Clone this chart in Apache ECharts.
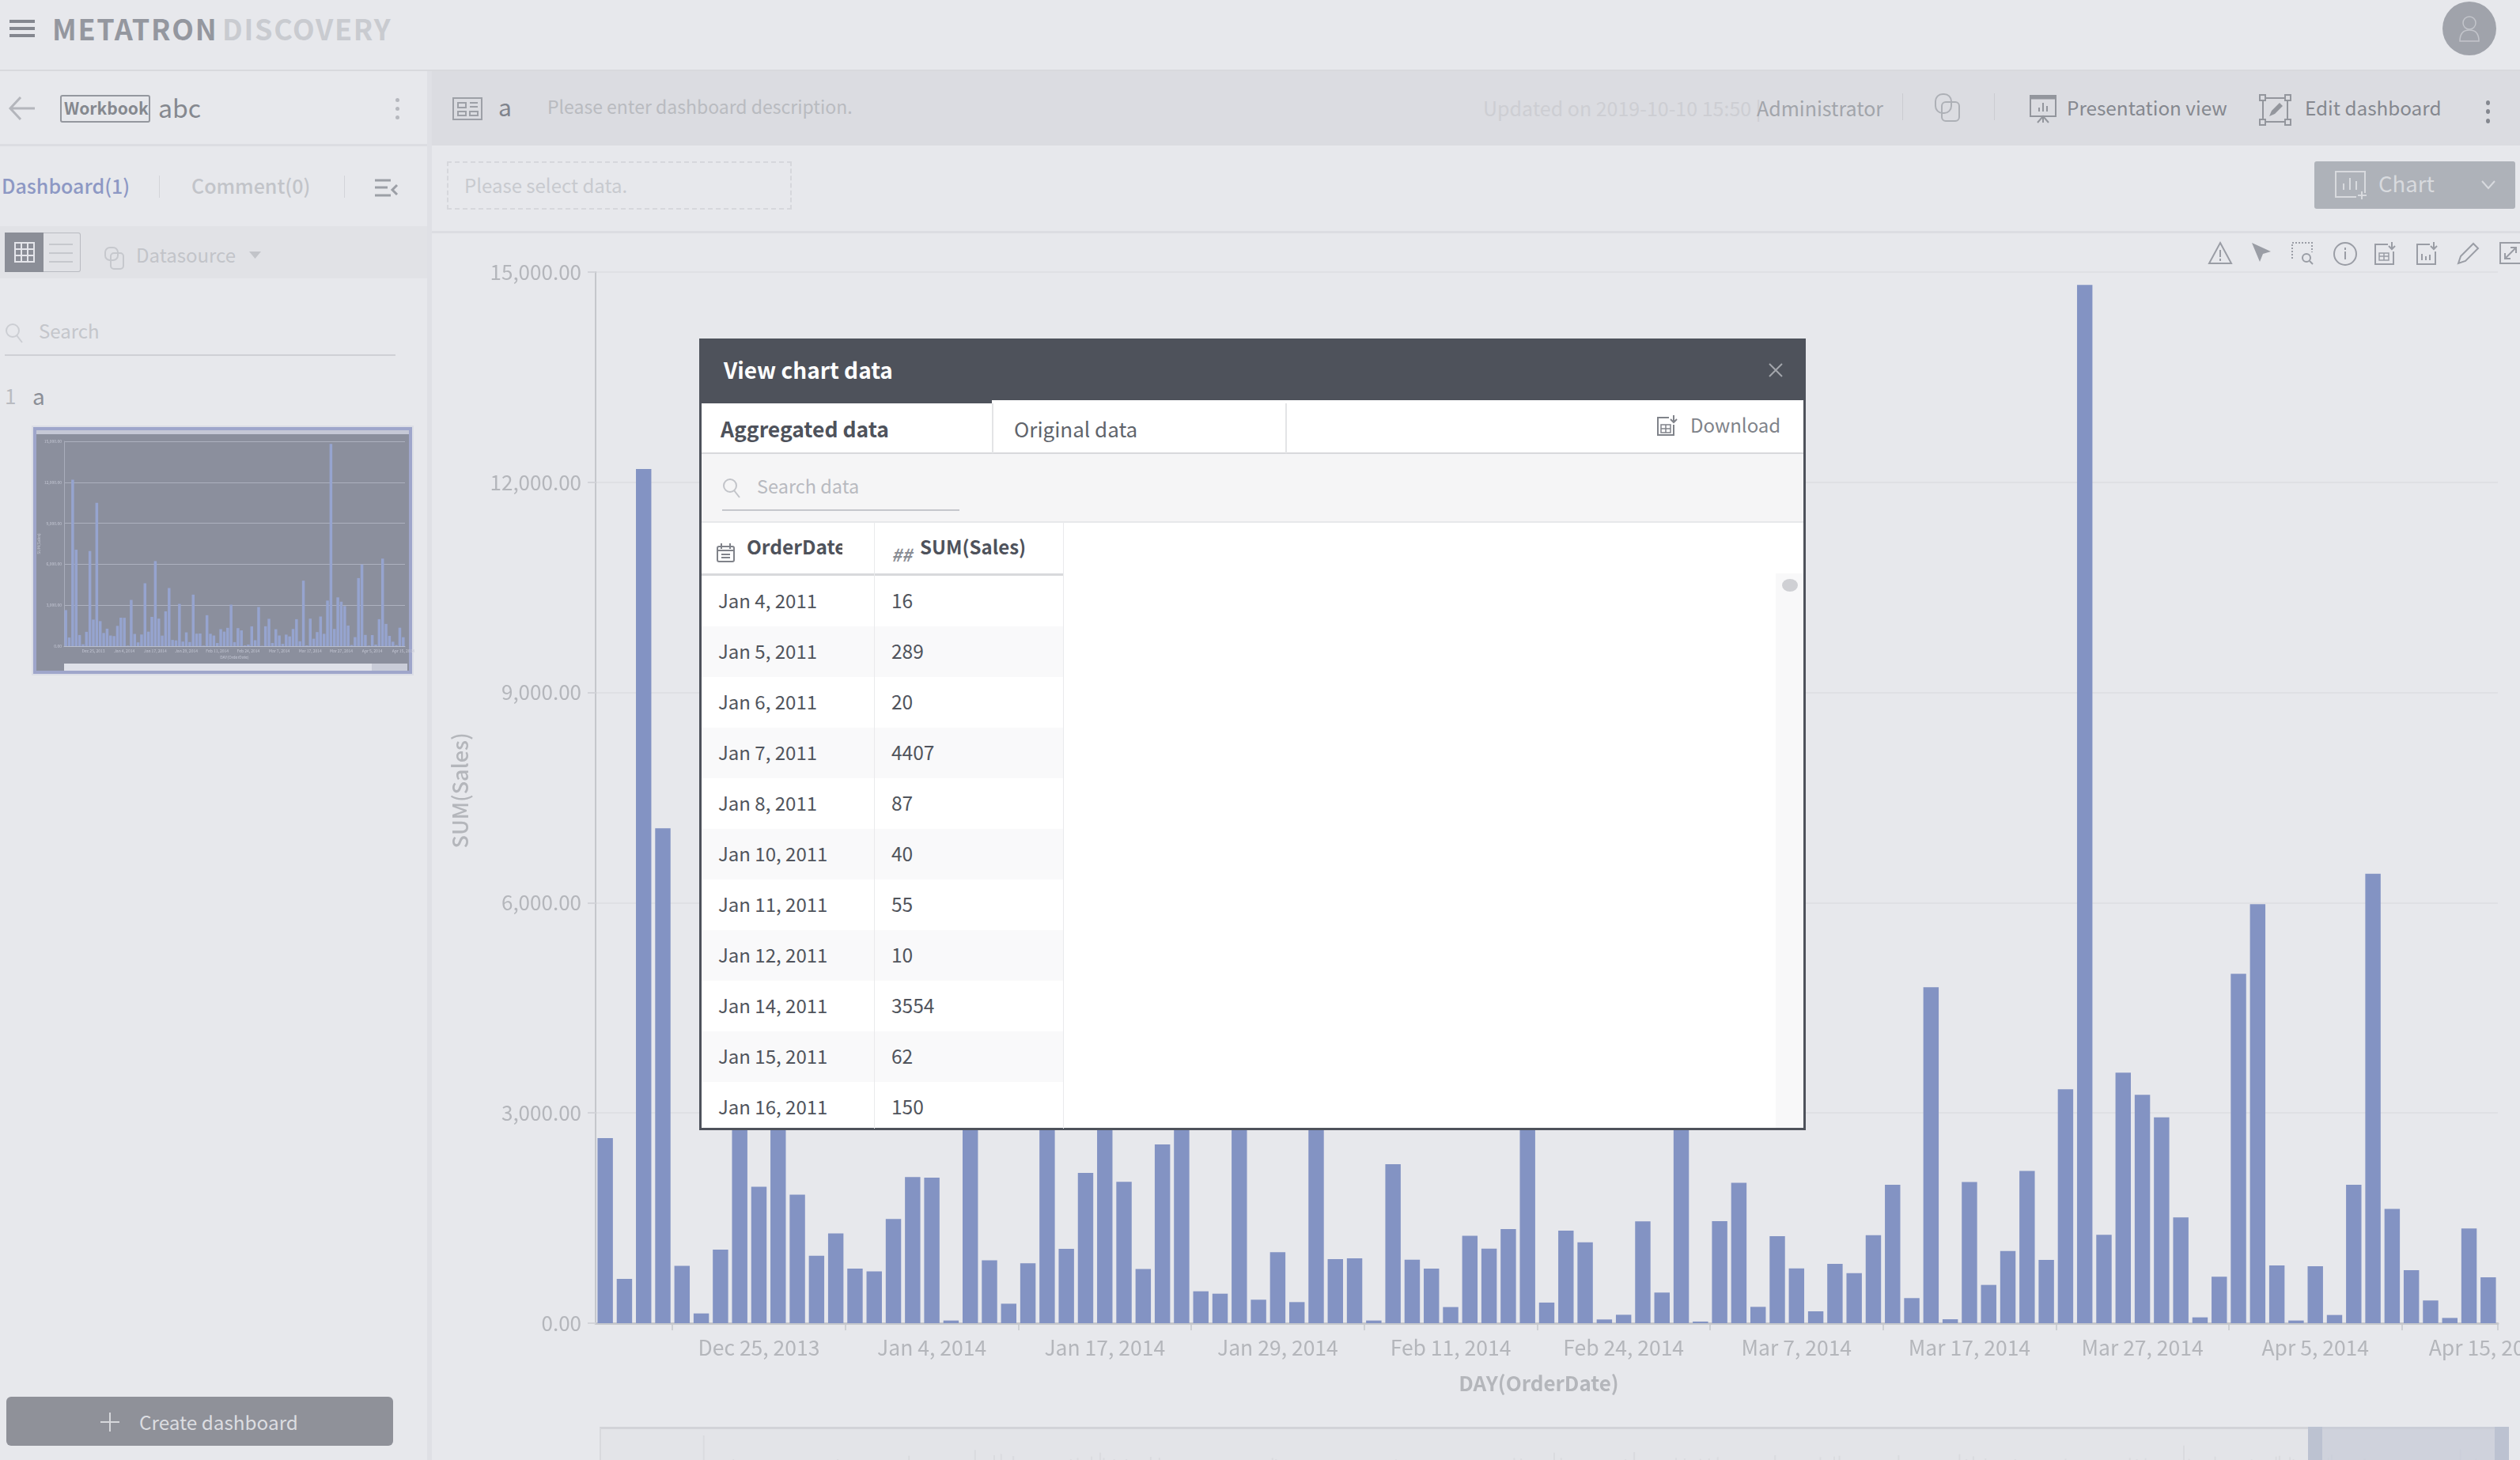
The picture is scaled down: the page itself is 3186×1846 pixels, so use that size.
<!DOCTYPE html>
<html><head><meta charset="utf-8">
<script src="https://cdn.jsdelivr.net/npm/echarts@6/dist/echarts.min.js"></script>
<style>
html,body{margin:0;padding:0;width:3186px;height:1846px;overflow:hidden;background:#e7e8ec;font-family:"Noto Sans CJK KR","Noto Sans",sans-serif}
.l{position:absolute;white-space:nowrap}
.t{position:absolute;white-space:nowrap;transform:translateY(-50%);line-height:1}
svg{position:absolute;overflow:visible;fill:none}
#chrome,#modal{position:absolute;left:0;top:0;width:3186px;height:1846px}
#chrome{z-index:0}#chart{position:absolute;left:0;top:0;width:3186px;height:1846px;z-index:1}#modal{z-index:2;pointer-events:none}
</style></head><body>
<div id="chrome"></div><div id="chart"></div><div id="modal"></div>
<script>
// ---------- chart data ----------
const categories = ["Dec 15, 2013","Dec 16, 2013","Dec 17, 2013","Dec 18, 2013","Dec 19, 2013","Dec 20, 2013","Dec 21, 2013","Dec 23, 2013","Dec 25, 2013",
"Dec 26, 2013","Dec 27, 2013","Dec 28, 2013","Dec 29, 2013","Dec 30, 2013","Dec 31, 2013","Jan 1, 2014","Jan 2, 2014","Jan 4, 2014",
"Jan 5, 2014","Jan 6, 2014","Jan 7, 2014","Jan 9, 2014","Jan 10, 2014","Jan 11, 2014","Jan 13, 2014","Jan 15, 2014","Jan 17, 2014",
"Jan 18, 2014","Jan 19, 2014","Jan 20, 2014","Jan 21, 2014","Jan 23, 2014","Jan 24, 2014","Jan 26, 2014","Jan 27, 2014","Jan 29, 2014",
"Jan 31, 2014","Feb 1, 2014","Feb 2, 2014","Feb 3, 2014","Feb 4, 2014","Feb 6, 2014","Feb 7, 2014","Feb 9, 2014","Feb 11, 2014",
"Feb 12, 2014","Feb 13, 2014","Feb 15, 2014","Feb 16, 2014","Feb 18, 2014","Feb 19, 2014","Feb 20, 2014","Feb 22, 2014","Feb 24, 2014",
"Feb 25, 2014","Feb 26, 2014","Feb 27, 2014","Feb 28, 2014","Mar 1, 2014","Mar 2, 2014","Mar 3, 2014","Mar 5, 2014","Mar 7, 2014",
"Mar 8, 2014","Mar 9, 2014","Mar 10, 2014","Mar 11, 2014","Mar 13, 2014","Mar 14, 2014","Mar 15, 2014","Mar 16, 2014","Mar 17, 2014",
"Mar 18, 2014","Mar 19, 2014","Mar 20, 2014","Mar 21, 2014","Mar 22, 2014","Mar 23, 2014","Mar 24, 2014","Mar 26, 2014","Mar 27, 2014",
"Mar 28, 2014","Mar 29, 2014","Mar 30, 2014","Mar 31, 2014","Apr 1, 2014","Apr 2, 2014","Apr 3, 2014","Apr 4, 2014","Apr 5, 2014",
"Apr 6, 2014","Apr 7, 2014","Apr 8, 2014","Apr 9, 2014","Apr 10, 2014","Apr 11, 2014","Apr 12, 2014","Apr 14, 2014","Apr 15, 2014"];
const sumSales = [2642,632,12190,7063,817,139,1050,6967,1946,
10490,1833,963,1280,779,738,1487,2085,2077,
38,3387,896,278,854,4606,1061,2145,6232,
2017,772,2552,4258,455,421,3097,335,1012,
301,3774,915,926,38,2270,907,779,230,
1246,1065,1344,3039,294,1321,1155,53,120,
1453,437,2864,23,1457,2002,233,1242,783,
169,847,715,1257,1976,358,4795,56,2014,
546,1031,2172,903,3339,14817,1261,3574,3258,
2936,1509,83,662,4986,5979,824,38,813,
117,1976,6413,1630,756,324,75,1351,655];
const yTicks = [0,3000,6000,9000,12000,15000];
// overview strip: [record index, sales] of the spikes that show in the slider
const overviewSpikes = [[59,21240],[76,10440],[136,10440],[177,12000],[215,14640],[226,12240],[230,12840],[237,11880],[270,10440],[274,11050],[282,11640],[287,13440],[289,11050],[295,10440],[302,10440],[316,11520],[321,11160],[386,11050],[388,10440],[457,10320],[525,11050],[529,10800],[548,13440],[552,11050],[589,10440],[594,13680],[618,11050],[623,10800],[632,10550],[637,10800],[642,11400],[675,12240],[701,11400],[709,11640],[712,12000],[746,12240],[781,12720],[785,10440],[789,11760],[796,10800],[813,10440],[842,10680],[879,11050],[883,10440],[888,10900],[910,16680],[913,10550],[928,11640],[949,10320],[963,11640],[965,12000],[971,11400],[973,10440],[993,11050],[995,12480],[1014,10680],[1069,14870],[1078,10550]];
const tableDates = ["Jan 4, 2011","Jan 5, 2011","Jan 6, 2011","Jan 7, 2011","Jan 8, 2011","Jan 10, 2011","Jan 11, 2011","Jan 12, 2011","Jan 14, 2011","Jan 15, 2011","Jan 16, 2011"];
const tableSales = [16,289,20,4407,87,40,55,10,3554,62,150];

// ---------- page furniture ----------
const F='"Noto Sans CJK KR","Noto Sans",sans-serif';
const chrome=document.getElementById('chrome'), modal=document.getElementById('modal');
function box(p,x,y,w,h,css){const d=document.createElement('div');d.className='l';d.style.cssText+=`left:${x}px;top:${y}px;width:${w}px;height:${h}px;${css||''}`;p.appendChild(d);return d;}
function txt(p,s,x,y,size,color,weight,css){const d=document.createElement('div');d.className='t';d.textContent=s;d.style.cssText+=`left:${x}px;top:${y}px;font-size:${size}px;color:${color};font-weight:${weight||400};${css||''}`;p.appendChild(d);return d;}
function svg(p,x,y,w,h,inner){const d=document.createElement('div');d.className='l';d.style.cssText+=`left:${x}px;top:${y}px;width:${w}px;height:${h}px`;d.innerHTML=`<svg width="${w}" height="${h}" viewBox="0 0 ${w} ${h}">${inner}</svg>`;p.appendChild(d);}

// bands and rules
box(chrome,541,90,2645,94,'background:#dbdce1');
box(chrome,0,88,3186,2,'background:#d8d9dd');
box(chrome,0,182,541,3,'background:#dcdde2');
box(chrome,0,286,541,66,'background:#e1e2e6');
box(chrome,540,90,6,1756,'background:#dfe0e5');
box(chrome,546,292,2640,3,'background:#dcdde2');
// top bar
for(const y of [25,34,43])box(chrome,12,y,32,4,'background:#84878f');
txt(chrome,'METATRON',66,35,36,'#94979f',700,'letter-spacing:1.7px');
txt(chrome,'DISCOVERY',281,35,36,'#c9cbd0',700,'letter-spacing:1.7px');
box(chrome,3088,2,68,68,'background:#a0a3ab;border-radius:50%');
svg(chrome,3088,2,68,68,'<circle cx="34" cy="27" r="8" stroke="#c3c5cb" stroke-width="1.5"/><path d="M22 50c0-10 5-14 12-14s12 4 12 14z" stroke="#c3c5cb" stroke-width="1.5"/>');
// workbook header
svg(chrome,10,120,36,34,'<path d="M34 17H3M16 3 3 17l13 14" stroke="#b4b6bc" stroke-width="3"/>');
box(chrome,76,120,110,31,'border:2px solid #94979e;border-radius:3px');
txt(chrome,'Workbook',81,136,21,'#85888f',700);
txt(chrome,'abc',200,135,32,'#85888f',400);
for(const y of [124,135,146])box(chrome,500,y,5,5,'background:#b6b8be;border-radius:50%');
// dashboard tabs
txt(chrome,'Dashboard(1)',2,234,25,'#8d98c4',500);
box(chrome,201,222,1,28,'background:#d3d4d9');
txt(chrome,'Comment(0)',242,234,25,'#c2c4c9',500);
box(chrome,435,222,1,28,'background:#d3d4d9');
svg(chrome,474,226,30,24,'<path d="M0 2h20M0 11h16M0 21h20M28 8l-6 6 6 6" stroke="#9c9fa6" stroke-width="3"/>');
// list toggles + datasource
box(chrome,6,294,49,50,'background:#8b8e97');
box(chrome,55,294,46,48,'border:1px solid #b9bbc1;border-left:0;border-radius:0 3px 3px 0');
svg(chrome,18,306,26,26,'<path d="M0 1h25M0 9h25M0 17h25M0 25h25M1 0v26M9 0v26M17 0v26M25 0v26" stroke="#e4e5ea" stroke-width="2"/>');
svg(chrome,62,308,32,24,'<path d="M0 1h30M0 12h30M0 23h30" stroke="#c6c8cd" stroke-width="2"/>');
svg(chrome,132,312,26,28,'<rect x="1" y="1" width="16" height="16" rx="6" stroke="#c6c8cd" stroke-width="2"/><rect x="8" y="8" width="16" height="20" rx="4" stroke="#c6c8cd" stroke-width="2"/>');
txt(chrome,'Datasource',172,322,24,'#c2c4c9');
svg(chrome,315,318,16,10,'<path d="M0 0h15L7.500 9z" fill="#c2c4c9"/>');
// sidebar search + list
svg(chrome,6,408,24,26,'<circle cx="10" cy="10" r="8" stroke="#ccced3" stroke-width="2"/><path d="M15 16l7 9" stroke="#ccced3" stroke-width="2"/>');
txt(chrome,'Search',49,418,24,'#c4c6cb');
box(chrome,6,448,494,2,'background:#cfd0d5');
txt(chrome,'1',6,500,26,'#b9bbc1');
txt(chrome,'a',41,500,28,'#8c8f97');
// thumbnail backdrop
box(chrome,42,540,471,304,'border:4px solid #9fa6cb;background:#8b8f9d;box-shadow:0 0 0 2px #dcdee6');
box(chrome,46,544,471,5,'background:#c5c8d6');
box(chrome,81,839,434,9,'background:#dfe1e9');
box(chrome,470,839,45,9,'background:#c9ccd8');
// create dashboard
box(chrome,8,1766,489,62,'background:#8f9199;border-radius:6px');
svg(chrome,127,1786,24,24,'<path d="M12 0v24M0 12h24" stroke="#d6d7db" stroke-width="2"/>');
txt(chrome,'Create dashboard',176,1798,24.3,'#dcdde1');
// description band
svg(chrome,572,123,38,29,'<rect x="1" y="1" width="36" height="27" stroke="#9da0a7" stroke-width="2"/><path d="M7 7h10v6H7zM7 18h10v5H7zM22 7h10M22 12h10M22 18h10v5H22z" stroke="#9da0a7" stroke-width="2"/>');
txt(chrome,'a',630,134,30,'#7f838c');
txt(chrome,'Please enter dashboard description.',692,134,23,'#b9bbc0');
txt(chrome,'Updated on 2019-10-10 15:50 |',1875,136,25,'#cdced3');
txt(chrome,'Administrator',2221,136,25,'#a2a5ab');
box(chrome,2405,118,1,34,'background:#cbccd1');
svg(chrome,2446,118,34,36,'<rect x="1" y="1" width="20" height="24" rx="9" stroke="#adb0b6" stroke-width="2"/><rect x="9" y="11" width="22" height="24" rx="5" stroke="#adb0b6" stroke-width="2"/>');
box(chrome,2521,118,1,34,'background:#cbccd1');
svg(chrome,2566,120,36,36,'<rect x="1" y="1" width="32" height="26" stroke="#93969d" stroke-width="2"/><path d="M1 3h32" stroke="#93969d" stroke-width="5"/><path d="M12 21v-5M17 21v-11M22 21v-7M17 27v8M10 35l7-8 7 8" stroke="#93969d" stroke-width="2"/>');
txt(chrome,'Presentation view',2613,136,24.3,'#85888f');
svg(chrome,2857,120,40,38,'<rect x="4" y="4" width="31" height="30" stroke="#93969d" stroke-width="2"/><rect x="0" y="0" width="7" height="7" fill="#dbdce1" stroke="#93969d" stroke-width="2"/><rect x="32" y="0" width="7" height="7" fill="#dbdce1" stroke="#93969d" stroke-width="2"/><rect x="0" y="31" width="7" height="7" fill="#dbdce1" stroke="#93969d" stroke-width="2"/><rect x="32" y="31" width="7" height="7" fill="#dbdce1" stroke="#93969d" stroke-width="2"/><path d="M12 27l3-7 10-10 4 4-10 10z" fill="#93969d"/>');
txt(chrome,'Edit dashboard',2914,136,24.3,'#85888f');
for(const y of [127,138,150])box(chrome,3143,y,5,6,'background:#84878f;border-radius:50%');
// data-select row
box(chrome,565,204,432,57,'border:2px dashed #d6d7dc');
txt(chrome,'Please select data.',587,234,24,'#c8cacf');
box(chrome,2926,204,254,60,'background:#aeb2b9;border-radius:3px');
svg(chrome,2952,216,42,36,'<path d="M38 28V1H1v32h26" stroke="#d8dade" stroke-width="2"/><path d="M11 24v-8M19 24V9M27 24v-11M34 26v10M29 31h11" stroke="#d8dade" stroke-width="2"/>');
txt(chrome,'Chart',3007,232,27.5,'#d8dade');
svg(chrome,3137,228,18,12,'<path d="M1 1l8 9 8-9" stroke="#d8dade" stroke-width="2"/>');
// chart toolbar
const I='#9a9da5';
svg(chrome,2792,306,30,28,`<path d="M15 1 29 27H1z" stroke="${I}" stroke-width="2"/><path d="M15 10v9M15 21v3" stroke="${I}" stroke-width="2"/>`);
svg(chrome,2846,306,26,26,`<path d="M1 1l24 11-10 3-4 10z" fill="${I}"/>`);
svg(chrome,2897,306,28,28,`<path d="M1 21V1h25v12" stroke="${I}" stroke-width="2" stroke-dasharray="2 2"/><circle cx="19" cy="20" r="5" stroke="${I}" stroke-width="2"/><path d="M23 24l4 4" stroke="${I}" stroke-width="2"/>`);
svg(chrome,2950,306,30,30,`<circle cx="15" cy="15" r="14" stroke="${I}" stroke-width="2"/><path d="M15 12v10M15 7v3" stroke="${I}" stroke-width="2"/>`);
svg(chrome,3002,306,28,28,`<path d="M17 3H1v25h23V12" stroke="${I}" stroke-width="2"/><path d="M6 14h12v9H6zM6 18h12M12 14v9" stroke="${I}" stroke-width="1.500"/><path d="M22 0v8M18 5l4 4 4-4" stroke="${I}" stroke-width="2"/>`);
svg(chrome,3055,306,28,28,`<path d="M17 3H1v25h23V12" stroke="${I}" stroke-width="2"/><path d="M7 23v-8M12 23v-5M17 23v-7" stroke="${I}" stroke-width="2"/><path d="M22 0v8M18 5l4 4 4-4" stroke="${I}" stroke-width="2"/>`);
svg(chrome,3107,306,28,28,`<path d="M1 27l3-9L20 2l6 6-16 16z" stroke="${I}" stroke-width="2"/>`);
svg(chrome,3160,306,28,28,`<rect x="1" y="1" width="26" height="26" stroke="${I}" stroke-width="2"/><path d="M7 21 21 7M14 7h7v7M7 14v7h7" stroke="${I}" stroke-width="2"/>`);
// slider frame + window
box(chrome,758,1804,2414,42,'background:#e3e4e8;border-top:3px solid #d2d3d8;border-left:2px solid #d8d9dd;box-sizing:border-box');
box(document.body,2936,1804,218,42,'background:rgba(198,202,215,.7);z-index:1');
box(document.body,2918,1804,18,42,'background:#bcc2d1;z-index:1');
box(document.body,3154,1804,18,42,'background:#bcc2d1;z-index:1');

// ---------- modal ----------
const M='#4e525b';
box(modal,884,428,1399,1001,'background:#fff;border:3px solid '+M+';box-sizing:border-box');
box(modal,884,428,1399,78,'background:'+M);
txt(modal,'View chart data',915,467,28,'#fff',700);
svg(modal,2236,459,18,18,'<path d="M1 1l16 16M17 1 1 17" stroke="#a3a6ac" stroke-width="2"/>');
box(modal,887,506,367,4,'background:'+M);
box(modal,887,572,1393,2,'background:#d8d9dc');
box(modal,1254,510,2,63,'background:#e3e4e6');
box(modal,1625,510,2,63,'background:#e3e4e6');
txt(modal,'Aggregated data',911,542,26.5,M,700);
txt(modal,'Original data',1282,542,26,'#60646b');
svg(modal,2095,525,26,26,'<path d="M15 3H1v22h20V12" stroke="#80838a" stroke-width="2"/><path d="M5 12h12v10H5zM5 17h12M11 12v10" stroke="#80838a" stroke-width="1.500"/><path d="M21 0v8M17 5l4 4 4-4" stroke="#80838a" stroke-width="2"/>');
txt(modal,'Download',2137,537,24,'#7f838a');
box(modal,887,574,1393,85,'background:#f5f5f6');
box(modal,887,659,1393,2,'background:#e7e8ea');
svg(modal,913,604,24,26,'<circle cx="10" cy="10" r="8" stroke="#c2c4c9" stroke-width="2"/><path d="M15 16l7 9" stroke="#c2c4c9" stroke-width="2"/>');
txt(modal,'Search data',957,615,23.5,'#b8bac0');
box(modal,913,644,300,2,'background:#c5c7cc');
// table header
svg(modal,906,687,24,24,'<rect x="1" y="4" width="21" height="19" rx="2" stroke="#80838a" stroke-width="2"/><path d="M6 0v7M17 0v7M1 9h21M6 14h11M6 18h11" stroke="#80838a" stroke-width="2"/>');
txt(modal,'OrderDate',944,691,24.5,M,700,'width:121px;overflow:hidden');
txt(modal,'##',1127,700,22,'#8a8d94',700,'font-style:italic');
txt(modal,'SUM(Sales)',1163,691,24,M,700);
box(modal,887,725,457,3,'background:#d8d9dc');
box(modal,1105,660,1,767,'background:#e9eaec');
box(modal,1344,660,1,767,'background:#e9eaec');
box(modal,2245,725,35,701,'background:#f8f8f9');
box(modal,2253,732,20,16,'background:#cfd0d4;border-radius:50%');
// table rows from the data lists
tableDates.forEach((d,i)=>{
  const top=728+i*64;
  if(i%2===1){box(modal,887,top,218,Math.min(64,1426-top),'background:#f9f9fa');box(modal,1106,top,238,Math.min(64,1426-top),'background:#f9f9fa');}
  txt(modal,d,908,759+i*64,24,'#50545c');
  txt(modal,String(tableSales[i]),1127,759+i*64,24.5,'#50545c');
});

// ---------- chart ----------
const labelIdx = i => (i-8)%9===0;
const tickIdx  = i => (i-4)%9===0;
const fmt = v => v.toLocaleString('en-US',{minimumFractionDigits:2,maximumFractionDigits:2});
const chart = echarts.init(document.getElementById('chart'),null,{renderer:'canvas'});
chart.setOption({
  animation:false,
  backgroundColor:'transparent',
  textStyle:{fontFamily:F},
  grid:[
    {left:753,top:344,width:2405,height:1329,outerBoundsMode:'none'},
    {left:81,top:558,width:431,height:259,outerBoundsMode:'none'},
    {left:760,top:1804,width:2410,height:70,outerBoundsMode:'none'}
  ],
  xAxis:[
    {type:'category',gridIndex:0,data:categories,boundaryGap:true,
     name:'DAY(OrderDate)',nameLocation:'middle',nameGap:63,
     nameTextStyle:{fontSize:26,fontWeight:700,color:'#b4b6bb',fontFamily:F,padding:[0,20,0,0]},
     axisLine:{lineStyle:{color:'#c5c7cc',width:3}},
     axisTick:{show:true,interval:tickIdx,length:9,lineStyle:{color:'#c5c7cc',width:1.5}},
     axisLabel:{interval:labelIdx,color:'#b4b6bb',fontSize:26.5,margin:18,fontFamily:F,hideOverlap:false}},
    {type:'category',gridIndex:1,data:categories,
     name:'DAY(OrderDate)',nameLocation:'middle',nameGap:12,nameTextStyle:{fontSize:5,color:'#c4c7d4'},
     axisLine:{lineStyle:{color:'#b9bdcb',width:1}},axisTick:{show:false},
     axisLabel:{interval:labelIdx,color:'#c4c7d4',fontSize:5,margin:4}},
    {type:'value',gridIndex:2,min:0,max:1096,show:false}
  ],
  yAxis:[
    {type:'value',gridIndex:0,min:0,max:15000,interval:3000,
     name:'SUM(Sales)',nameLocation:'middle',nameGap:158,
     nameTextStyle:{fontSize:27,fontWeight:500,color:'#b4b6bb',fontFamily:F,padding:[0,0,0,18]},
     axisLine:{show:true,lineStyle:{color:'#c5c7cc',width:2}},
     axisTick:{show:true,length:10,lineStyle:{color:'#d3d4d9',width:2}},
     axisLabel:{color:'#b4b6bb',fontSize:26,margin:18,formatter:fmt,fontFamily:F},
     splitLine:{show:true,lineStyle:{color:'#dfe0e4',width:2}}},
    {type:'value',gridIndex:1,min:0,max:15000,interval:3000,
     name:'SUM(Sales)',nameLocation:'middle',nameGap:28,nameTextStyle:{fontSize:5,color:'#c4c7d4'},
     axisLine:{show:true,lineStyle:{color:'#a9adbb',width:1}},axisTick:{show:false},
     axisLabel:{color:'#c4c7d4',fontSize:5,margin:3,formatter:fmt},
     splitLine:{show:true,lineStyle:{color:'#adb1bf',width:1}}},
    {type:'value',gridIndex:2,min:0,max:25200,show:false}
  ],
  series:[
    {type:'bar',name:'SUM(Sales)',xAxisIndex:0,yAxisIndex:0,data:sumSales,barCategoryGap:'20%',silent:true,
     itemStyle:{color:'#8393c3'}},
    {type:'bar',name:'thumbnail',xAxisIndex:1,yAxisIndex:1,data:sumSales,barCategoryGap:'20%',silent:true,
     itemStyle:{color:'#96a4cf'}},
    {type:'bar',name:'overview',xAxisIndex:2,yAxisIndex:2,data:overviewSpikes,barWidth:2,silent:true,
     itemStyle:{color:'#dadbdf'}}
  ]
});
</script></body></html>
